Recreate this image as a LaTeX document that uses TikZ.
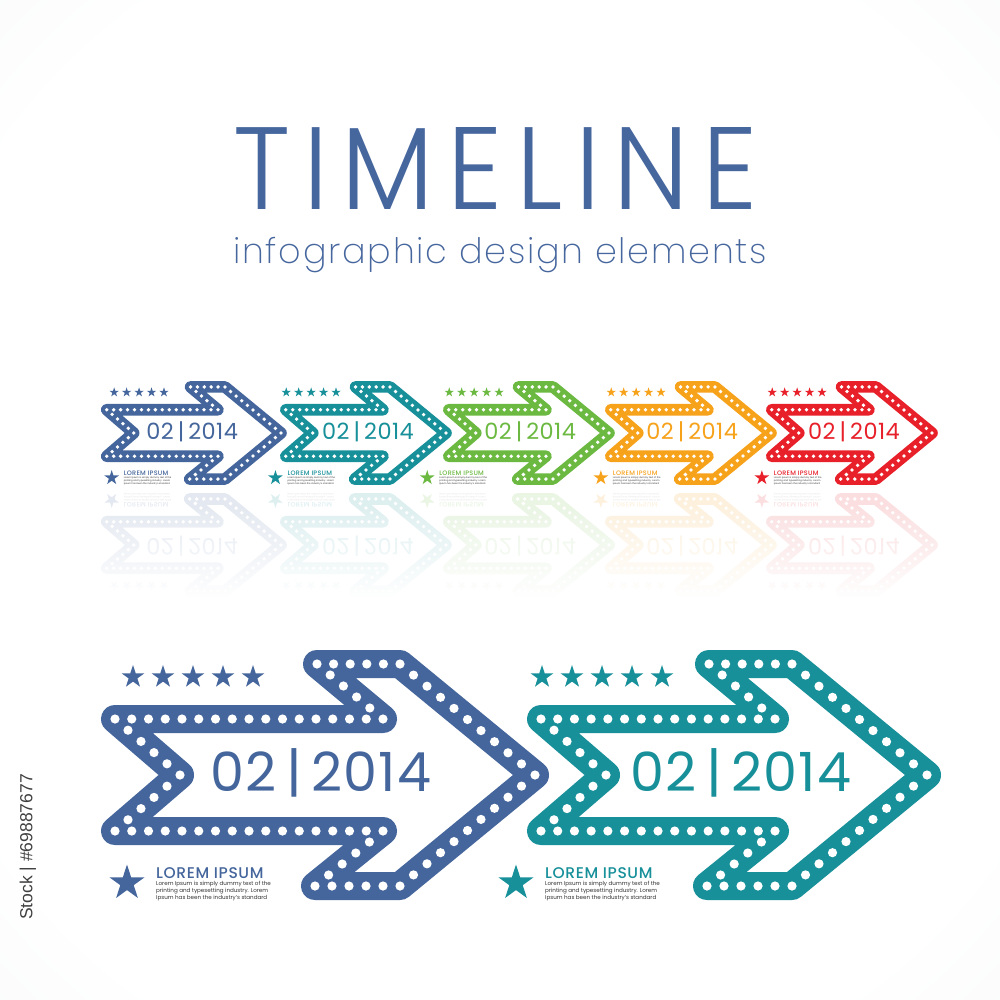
\documentclass[tikz,border=0pt]{standalone}
\usepackage{fontspec}
\setmainfont{Poppins}
\newfontfamily\lightf{Poppins Light}
\newfontfamily\xlightf{Poppins ExtraLight}
\newfontfamily\medf{Poppins Medium}
\newfontfamily\wmf{Liberation Sans}
\usetikzlibrary{fadings}
\definecolor{cblue}{HTML}{45669C}
\definecolor{cteal}{HTML}{17909A}
\definecolor{cgreen}{HTML}{6CB942}
\definecolor{corange}{HTML}{F7A21B}
\definecolor{cred}{HTML}{E8202A}
\definecolor{ctitle}{HTML}{46669E}
\definecolor{bgedge}{HTML}{E9EBEC}
\definecolor{txtgray}{HTML}{333333}
\pgfdeclareradialshading{bgshade}{\pgfpoint{0bp}{0bp}}{color(0bp)=(white); color(30bp)=(white); color(62bp)=(bgedge); color(75bp)=(bgedge)}
\tikzfading[name=reflfade, top color=transparent!100, bottom color=transparent!0]

\newcommand\dseg[5]{\foreach \i in {1,...,#5}{\fill[white] ({(#1)+((#3)-(#1))*(\i-1)/(#5)},{(#2)+((#4)-(#2))*(\i-1)/(#5)}) circle[radius=4.6];}}
\newcommand\starat[3]{\fill[shift={(#1,#2)}] (-90:#3) \foreach \j in {0,...,4}{ -- ({-54+72*\j}:{0.382*#3}) -- ({-18+72*\j}:#3)} -- cycle;}

% #1 tipx #2 tipy #3 scale #4 colour #5 L #6 stars x #7 date x #8 lorem star x #9 name prefix
\newcommand\tlunit[9]{%
\begin{scope}[shift={(#1,#2)}, scale=#3, transform shape, color=#4]
 \draw[line width=#3*28pt, line join=round] (#5,-56) -- (-152,-56) -- (-218,-111) -- (-135,-111) -- (0,0) -- (-135,111) -- (-220,111) -- (-152,56) -- (#5,56) -- ({#5+65},0) -- cycle;
 \pgfmathtruncatemacro\nb{round((-152-(#5))/16.9)}
 \dseg{#5}{-56}{-152}{-56}{\nb}
 \dseg{-152}{-56}{-218}{-111}{5}
 \dseg{-218}{-111}{-135}{-111}{5}
 \dseg{-135}{-111}{0}{0}{10}
 \dseg{0}{0}{-135}{111}{10}
 \dseg{-135}{111}{-220}{111}{5}
 \dseg{-220}{111}{-152}{56}{5}
 \dseg{-152}{56}{#5}{56}{\nb}
 \dseg{#5}{56}{#5+65}{0}{5}
 \dseg{#5+65}{0}{#5}{-56}{5}
 \foreach \k in {0,...,4}{\starat{#6+30*\k}{-98}{12}}
 \node[inner sep=0, font=\fontsize{54}{54}\selectfont\addfontfeature{LetterSpace=2}] (#9date) at (#7,-2) {02\kern0.18em|\kern0.18em2014};
 \starat{#8}{108}{18.5}
 \node[anchor=base west, inner sep=0, font=\medf\fontsize{15.5}{15.5}\selectfont\addfontfeature{LetterSpace=4}] (#9head) at (#8+29,103) {LOREM IPSUM};
 \node[anchor=north west, inner sep=0, align=left, text=txtgray, font=\fontsize{5.6}{7}\selectfont] (#9body) at (#8+29,106) {Lorem Ipsum is simply dummy text of the\\printing and typesetting industry. Lorem\\Ipsum has been the industry's standard};
\end{scope}}

\newcommand\smallrow{%
 \tlunit{281}{433}{0.415}{cblue}{-420}{-402}{-214}{-408}{sb}
 \tlunit{446}{433}{0.415}{cteal}{-386}{-385}{-188}{-411}{st}
 \tlunit{609}{433}{0.415}{cgreen}{-386}{-385}{-190}{-438}{sg}
 \tlunit{771}{433}{0.415}{corange}{-386}{-385}{-190}{-410}{so}
 \tlunit{932}{433}{0.415}{cred}{-386}{-385}{-188}{-410}{sr}
}

\begin{document}
\begin{tikzpicture}[x=1pt,y=-1pt]
\useasboundingbox (0,0) rectangle (1000,1000);
\shade[shading=bgshade] (0,0) rectangle (1000,1000);

% title
\node[anchor=south west, inner sep=0, text=ctitle] (title) at (233,210)
  {\resizebox{524pt}{82pt}{\lightf\addfontfeature{LetterSpace=12}TIMELINE}};
\node[anchor=base west, inner sep=0, text=ctitle] (subtitle) at (233,263)
  {\resizebox{534pt}{!}{\xlightf\fontsize{34}{34}\selectfont\addfontfeature{LetterSpace=5}infographic design elements}};

% small row
\smallrow
% reflection
\begin{scope}[transparency group, opacity=0.14, shift={(0,978)}, yscale=-1]
\smallrow
\end{scope}
\fill[white, path fading=reflfade] (60,505) rectangle (960,598);

% big row
\tlunit{535}{775}{1}{cblue}{-420}{-402}{-214}{-408}{bb}
\tlunit{927}{775}{1}{cteal}{-386}{-385}{-186}{-411}{bt}

% side text
\node[rotate=90, anchor=west, inner sep=0, text=black!75, font=\wmf\fontsize{17.5}{17.5}\selectfont] (side) at (28,920) {Stock | \#69887677};
\end{tikzpicture}
\end{document}
